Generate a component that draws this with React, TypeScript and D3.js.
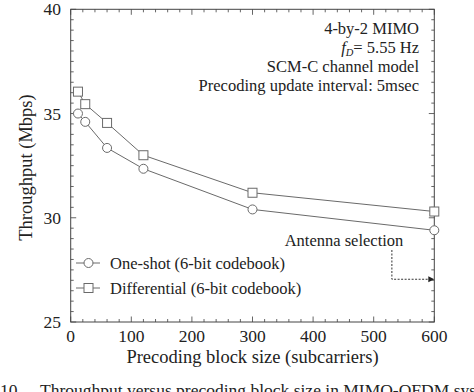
import React from 'react';
import * as d3 from 'd3';

// block sizes (subcarriers)
const blockSizes = [12, 24, 60, 120, 300, 600];
const oneShot = [35.0, 34.6, 33.35, 32.35, 30.4, 29.4];
const differential = [36.05, 35.45, 34.55, 33.0, 31.2, 30.3];
const antennaSelection = 27.05;

const xTickLabels = [0, 100, 200, 300, 400, 500, 600];
const yTickLabels = [25, 30, 35, 40];
const infoLines = ['4-by-2 MIMO', 'fD', 'SCM-C channel model', 'Precoding update interval: 5msec'];

const W = 474;
const H = 392;
const font = 'Liberation Serif, DejaVu Serif, serif';
const ink = '#222';
const grey = '#6a6a6a';

const App: React.FC = () => {
  const x = d3.scaleLinear().domain([0, 600]).range([70.7, 434.3]);
  const y = d3.scaleLinear().domain([25, 40]).range([322, 9.3]);
  const [x0, x1] = x.range();
  const [y0, y1] = y.range();

  const xMinor = d3.range(0, 601, 20);
  const yMinor = d3.range(25, 40.01, 0.5);

  const line = d3
    .line<number>()
    .x((_, i) => x(blockSizes[i]))
    .y((d) => y(d));

  const cornerX = x(530);
  const arrowY = y(antennaSelection);

  return (
    <svg
      width={W}
      height={H}
      style={{ position: 'absolute', left: 0, top: 0, background: '#fff', fontFamily: font }}
    >
      {/* ticks, inward on all sides */}
      <g stroke="#555" strokeWidth={0.9}>
        {xMinor.map((v) => {
          const len = v % 100 === 0 ? 5.5 : 3;
          return (
            <g key={'x' + v}>
              <line x1={x(v)} x2={x(v)} y1={y0} y2={y0 - len} />
              <line x1={x(v)} x2={x(v)} y1={y1} y2={y1 + len} />
            </g>
          );
        })}
        {yMinor.map((v) => {
          const len = Math.abs(v % 5) < 1e-6 ? 5.5 : 3;
          return (
            <g key={'y' + v}>
              <line x1={x0} x2={x0 + len} y1={y(v)} y2={y(v)} />
              <line x1={x1} x2={x1 - len} y1={y(v)} y2={y(v)} />
            </g>
          );
        })}
      </g>
      <rect x={x0} y={y1} width={x1 - x0} height={y0 - y1} fill="none" stroke="#444" strokeWidth={1} />

      {/* tick labels */}
      <g fill={ink} fontSize={17.5}>
        {xTickLabels.map((v) => (
          <text key={v} x={x(v)} y={342} textAnchor="middle">
            {v}
          </text>
        ))}
        {yTickLabels.map((v) => (
          <text key={v} x={61} y={y(v) + 6} textAnchor="end">
            {v}
          </text>
        ))}
      </g>

      {/* axis titles */}
      <text x={(x0 + x1) / 2} y={363} textAnchor="middle" fontSize={18.5} fill={ink}>
        Precoding block size (subcarriers)
      </text>
      <text
        transform={`translate(32, 167.5) rotate(-90)`}
        textAnchor="middle"
        fontSize={18.5}
        fill={ink}
      >
        Throughput (Mbps)
      </text>

      {/* series */}
      <path d={line(oneShot) || ''} fill="none" stroke={grey} strokeWidth={1} />
      <path d={line(differential) || ''} fill="none" stroke={grey} strokeWidth={1} />
      {oneShot.map((d, i) => (
        <circle key={'c' + i} cx={x(blockSizes[i])} cy={y(d)} r={4.5} fill="#fff" stroke={grey} strokeWidth={1} />
      ))}
      {differential.map((d, i) => (
        <rect
          key={'s' + i}
          x={x(blockSizes[i]) - 4.5}
          y={y(d) - 4.5}
          width={9}
          height={9}
          fill="#fff"
          stroke={grey}
          strokeWidth={1}
        />
      ))}

      {/* info text */}
      <g fill={ink} fontSize={16.5} textAnchor="end">
        <text x={419} y={34}>{infoLines[0]}</text>
        <text x={419} y={52.5}>
          <tspan fontStyle="italic">f</tspan>
          <tspan fontStyle="italic" fontSize={10.5} dy={3}>D</tspan>
          <tspan dy={-3}>= 5.55 Hz</tspan>
        </text>
        <text x={419} y={72}>{infoLines[2]}</text>
        <text x={419} y={91}>{infoLines[3]}</text>
      </g>

      {/* antenna selection annotation */}
      <text x={344} y={246} textAnchor="middle" fontSize={16.5} fill={ink}>
        Antenna selection
      </text>
      <path
        d={`M${cornerX},250 V${arrowY} H${x1 - 5}`}
        fill="none"
        stroke="#333"
        strokeWidth={1}
        strokeDasharray="2,1.5"
      />
      <path d={`M${x1 - 6},${arrowY - 3} L${x1},${arrowY} L${x1 - 6},${arrowY + 3} Z`} fill="#222" />

      {/* legend */}
      <g>
        <line x1={76} x2={100} y1={263} y2={263} stroke={grey} />
        <circle cx={88.5} cy={263} r={4.5} fill="#fff" stroke={grey} />
        <text x={110} y={269} fontSize={16.5} fill={ink}>
          One-shot (6-bit codebook)
        </text>
        <line x1={76} x2={100} y1={288} y2={288} stroke={grey} />
        <rect x={84} y={283.5} width={9} height={9} fill="#fff" stroke={grey} />
        <text x={110} y={294} fontSize={16.5} fill={ink}>
          Differential (6-bit codebook)
        </text>
      </g>

      {/* caption (clipped at the bottom, as in the source) */}
      <text x={0} y={396} fontSize={17.5} fill={ink}>
        10
      </text>
      <text x={40} y={396} fontSize={17.5} fill={ink}>
        Throughput versus precoding block size in MIMO-OFDM systems
      </text>
    </svg>
  );
};

export default App;
